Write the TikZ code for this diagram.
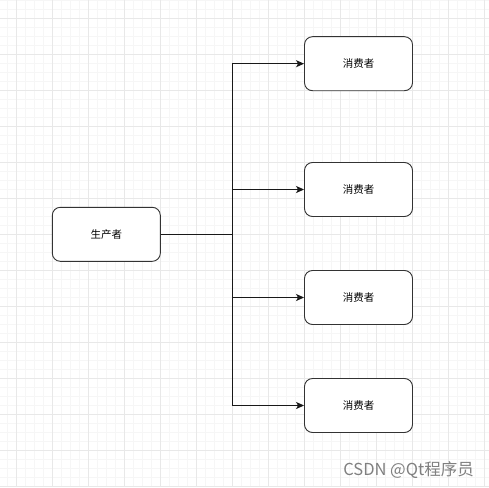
\documentclass[tikz,border=0pt]{standalone}
\usepackage{fontspec}
\setmainfont{Noto Sans CJK SC}
\usetikzlibrary{arrows.meta}
\definecolor{gridminor}{HTML}{F6F6F6}
\definecolor{gridmajor}{HTML}{E8E8E8}
\definecolor{boxline}{HTML}{333333}
\begin{document}
\begin{tikzpicture}[x=1pt,y=-1pt,
  minorline/.style={draw=gridminor,line width=0.6pt},
  majorline/.style={draw=gridmajor,line width=0.8pt},
  box/.style={draw=boxline,fill=white,rounded corners=8pt,minimum width=108pt,minimum height=54pt,inner sep=0pt,line width=0.9pt,font=\fontsize{10.5}{12}\selectfont},
  link/.style={draw=black!90,line width=0.9pt},
  arrowlink/.style={link,-{Stealth[length=8pt,width=7pt,inset=2pt]}},
  watermark/.style={text=black!50,font=\fontsize{16.5}{18}\selectfont,anchor=east,inner sep=0pt}]
\fill[white] (0,0) rectangle (489,487);
\useasboundingbox (0,0) rectangle (489,487);
\foreach \x in {7.5,16.5,...,489} \draw[minorline] (\x,0) -- (\x,487);
\foreach \y in {0,9,...,487} \draw[minorline] (0,\y) -- (489,\y);
\foreach \x in {16.5,52.5,...,489} \draw[majorline] (\x,0) -- (\x,487);
\foreach \y in {18,54,...,487} \draw[majorline] (0,\y) -- (489,\y);
\node[box] (p) at (106.3,234.3) {生产者};
\node[box] (c1) at (358.5,63.7) {消费者};
\node[box] (c2) at (358.5,189.5) {消费者};
\node[box] (c3) at (358.5,297.5) {消费者};
\node[box] (c4) at (358.5,405.5) {消费者};
\coordinate (j) at (232.3,234.3);
\draw[link] (p.east) -- (j);
\draw[arrowlink] (j) |- (c1.west);
\draw[arrowlink] (j) |- (c2.west);
\draw[arrowlink] (j) |- (c3.west);
\draw[arrowlink] (j) |- (c4.west);
\node[watermark] (wm) at (474,470) {CSDN @Qt程序员};
\end{tikzpicture}
\end{document}
